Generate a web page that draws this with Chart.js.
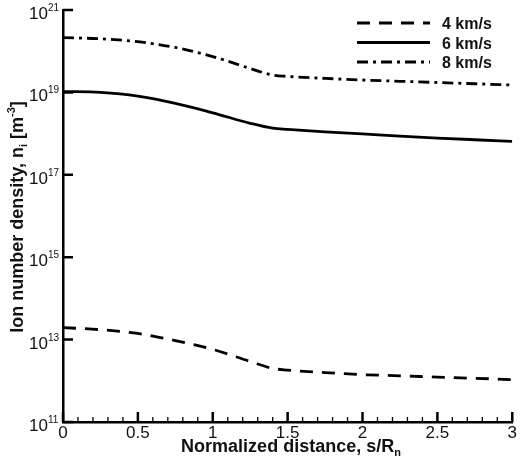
<!DOCTYPE html>
<html>
<head>
<meta charset="utf-8">
<script src="https://cdn.jsdelivr.net/npm/chart.js@4.4.1/dist/chart.umd.min.js"></script>
<style>
html, body { margin: 0; padding: 0; background: #fff; }
#wrap { width: 520px; height: 464px; position: relative; }
</style>
</head>
<body>
<div id="wrap"><canvas id="chart1"></canvas></div>
<script>
"use strict";

// normalized distance s/Rn
var distance = [0, 0.25, 0.5, 0.75, 1, 1.25, 1.4, 1.5, 1.75, 2, 2.25, 2.5, 2.75, 3];
// ion number density [m^-3]
var density4 = [1.95e13, 1.74e13, 1.41e13, 9.5e12, 5.8e12, 2.95e12, 2.0e12, 1.82e12, 1.58e12, 1.41e12, 1.32e12, 1.23e12, 1.15e12, 1.07e12];
var density6 = [1.05e19, 1.0e19, 8.1e18, 5.4e18, 3.2e18, 1.78e18, 1.35e18, 1.26e18, 1.10e18, 9.8e17, 8.7e17, 7.8e17, 7.1e17, 6.5e17];
var density8 = [2.14e20, 2.0e20, 1.70e20, 1.23e20, 7.41e19, 3.80e19, 2.63e19, 2.45e19, 2.19e19, 2.0e19, 1.86e19, 1.74e19, 1.62e19, 1.51e19];
var seriesLabels = ['4 km/s', '6 km/s', '8 km/s'];
var yTickExponents = [11, 13, 15, 17, 19, 21];
var xTickValues = [0, 0.5, 1, 1.5, 2, 2.5, 3];

var FONT = '"Liberation Sans", Arial, Helvetica, sans-serif';

function toPoints(ys) {
  return distance.map(function (s, i) { return { x: s, y: ys[i] }; });
}

function drawRich(ctx, parts, cx, cy, angle) {
  ctx.save();
  ctx.translate(cx, cy);
  ctx.rotate(angle);
  var total = 0;
  parts.forEach(function (p) {
    ctx.font = p.font;
    p.w = ctx.measureText(p.t).width;
    total += p.w;
  });
  var x = -total / 2;
  ctx.textAlign = 'left';
  ctx.textBaseline = 'alphabetic';
  ctx.fillStyle = '#111';
  parts.forEach(function (p) {
    ctx.font = p.font;
    ctx.fillText(p.t, x, p.dy);
    x += p.w;
  });
  ctx.restore();
}

// tick marks, tick labels with exponents, axis titles and legend
var decorations = {
  id: 'decorations',
  afterDraw: function (chart) {
    var ctx = chart.ctx;
    var area = chart.chartArea;
    var xs = chart.scales.x;
    var ys = chart.scales.y;

    ctx.save();
    ctx.strokeStyle = '#000';
    ctx.lineWidth = 2.5;
    ctx.beginPath();
    yTickExponents.forEach(function (e) {
      var y = ys.getPixelForValue(Math.pow(10, e));
      ctx.moveTo(area.left, y);
      ctx.lineTo(area.left + 10, y);
    });
    ctx.stroke();

    for (var k = 0; k <= 30; k++) {
      var px = xs.getPixelForValue(k / 10);
      var major = (k % 5 === 0);
      ctx.lineWidth = major ? 2.5 : 1.3;
      ctx.beginPath();
      ctx.moveTo(px, area.bottom);
      ctx.lineTo(px, area.bottom - (major ? 10 : 5));
      ctx.stroke();
    }
    ctx.restore();

    // y tick labels 10^n
    yTickExponents.forEach(function (e) {
      var y = ys.getPixelForValue(Math.pow(10, e));
      ctx.save();
      ctx.fillStyle = '#111';
      ctx.textBaseline = 'alphabetic';
      ctx.font = '10px ' + FONT;
      ctx.textAlign = 'left';
      ctx.fillText(String(e), 48, y + 1);
      ctx.font = '17px ' + FONT;
      ctx.textAlign = 'right';
      ctx.fillText('10', 48, y + 9);
      ctx.restore();
    });

    // axis titles
    var bold = 'bold 18px ' + FONT;
    var boldSmall = 'bold 11px ' + FONT;
    drawRich(ctx, [
      { t: 'Ion number density, n', font: bold, dy: 0 },
      { t: 'i', font: boldSmall, dy: 4 },
      { t: ' [m', font: bold, dy: 0 },
      { t: '-3', font: boldSmall, dy: -8 },
      { t: ']', font: bold, dy: 0 }
    ], 23, 217, -Math.PI / 2);
    drawRich(ctx, [
      { t: 'Normalized distance, s/R', font: bold, dy: 0 },
      { t: 'n', font: boldSmall, dy: 4 }
    ], 291, 452, 0);

    // legend
    chart.data.datasets.forEach(function (ds, i) {
      var ly = 23 + i * 19.5;
      ctx.save();
      ctx.strokeStyle = '#000';
      ctx.lineWidth = ds.borderWidth;
      ctx.setLineDash(ds.borderDash || []);
      ctx.beginPath();
      ctx.moveTo(357, ly);
      ctx.lineTo(430, ly);
      ctx.stroke();
      ctx.setLineDash([]);
      ctx.fillStyle = '#111';
      ctx.font = 'bold 16px ' + FONT;
      ctx.textAlign = 'left';
      ctx.textBaseline = 'alphabetic';
      ctx.fillText(ds.label, 442, ly + 6);
      ctx.restore();
    });
  }
};

var ctx = document.getElementById('chart1').getContext('2d');
new Chart(ctx, {
  type: 'line',
  data: {
    datasets: [{
      label: seriesLabels[0],
      data: toPoints(density4),
      borderColor: '#000',
      borderWidth: 2.8,
      borderDash: [13, 9],
      pointRadius: 0,
      cubicInterpolationMode: 'monotone',
      fill: false
    }, {
      label: seriesLabels[1],
      data: toPoints(density6),
      borderColor: '#000',
      borderWidth: 2.8,
      borderDash: [],
      pointRadius: 0,
      cubicInterpolationMode: 'monotone',
      fill: false
    }, {
      label: seriesLabels[2],
      data: toPoints(density8),
      borderColor: '#000',
      borderWidth: 2.8,
      borderDash: [11, 5, 3, 5],
      pointRadius: 0,
      cubicInterpolationMode: 'monotone',
      fill: false
    }]
  },
  options: {
    responsive: true,
    maintainAspectRatio: false,
    animation: false,
    layout: {
      padding: { top: 10, right: 5, left: 0, bottom: 0 }
    },
    plugins: {
      legend: { display: false },
      tooltip: { enabled: false }
    },
    scales: {
      x: {
        type: 'linear',
        min: 0,
        max: 3,
        grid: { display: false, drawTicks: false },
        border: { display: true, color: '#000', width: 2.5 },
        afterBuildTicks: function (scale) {
          scale.ticks = xTickValues.map(function (v) { return { value: v }; });
        },
        afterFit: function (scale) { scale.height = 42; },
        ticks: {
          padding: 3,
          color: '#111',
          font: { family: FONT, size: 17, lineHeight: 1 },
          maxRotation: 0,
          callback: function (v) { return String(v); }
        }
      },
      y: {
        type: 'logarithmic',
        min: 1e11,
        max: 1e21,
        grid: { display: false, drawTicks: false },
        border: { display: true, color: '#000', width: 2.5 },
        afterFit: function (scale) { scale.width = 63; },
        ticks: { display: false }
      }
    }
  },
  plugins: [decorations]
});
</script>
</body>
</html>
